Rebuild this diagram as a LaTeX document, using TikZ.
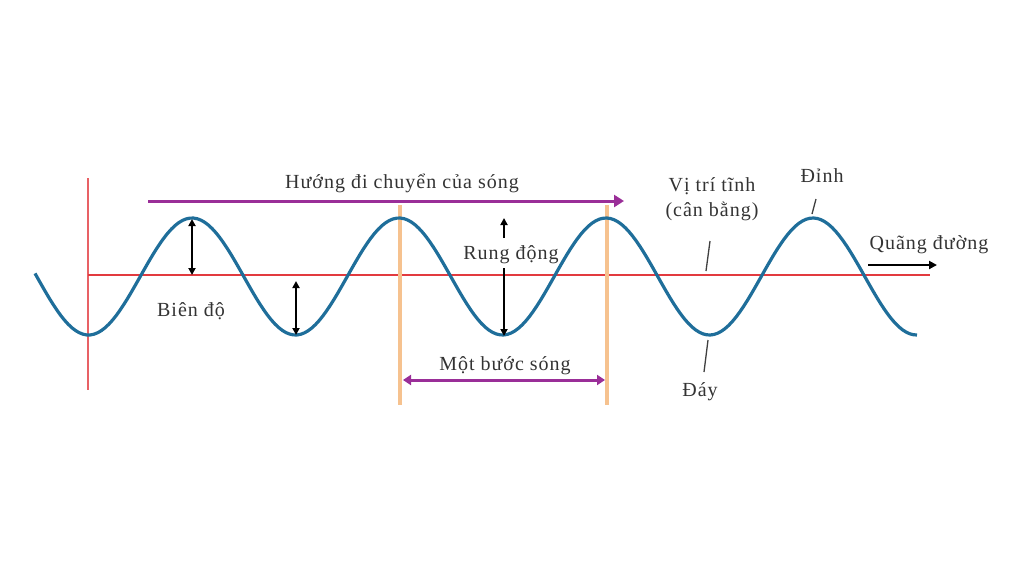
\documentclass[tikz,border=0pt]{standalone}
\usepackage{fontspec}
\setmainfont{Liberation Serif}[LetterSpace=5]
\usetikzlibrary{arrows.meta}
\definecolor{wave}{HTML}{1F6E9A}
\definecolor{rest}{HTML}{E23A3F}
\definecolor{violet}{HTML}{9A2E98}
\definecolor{peach}{HTML}{F6C28F}
\begin{document}
\begin{tikzpicture}[x=1pt,y=-1pt]
\tikzstyle{every node}+=[inner sep=0pt,font=\fontsize{20}{22}\selectfont,text=black!80]
\tikzstyle{tip}=[-{Triangle[length=7pt,width=7pt]}]
\tikzstyle{leader}=[black!75,line width=1.3pt]
\useasboundingbox (0,0) rectangle (1024,576);
% axes
\draw [rest,line width=1.3pt,opacity=0.8] (88,178) -- (88,390);
\draw [rest,line width=2.2pt] (88,275) -- (930,275);
% wavelength marks
\draw [peach,line width=3.5pt] (400,205) -- (400,405);
\draw [peach,line width=3.5pt] (607,205) -- (607,405);
% the wave
\draw [wave,line width=3.2pt] plot[domain=35:917,samples=240] (\x,{276.5-58.5*cos((\x-192)*1.73913)});
% direction of travel
\coordinate (dirA) at (148,201);
\coordinate (dirB) at (624,201);
\draw [violet,line width=3pt,-{Triangle[length=10pt,width=12pt]}] (dirA) -- (dirB);
\node (dir) at (402,183) {Hướng đi chuyển của sóng};
% amplitude
\coordinate (a1) at (192,219);
\coordinate (a2) at (192,275);
\coordinate (a3) at (296,281);
\coordinate (a4) at (296,335);
\draw [black,line width=2pt,{Triangle[length=7pt,width=7pt]}-{Triangle[length=7pt,width=7pt]}] (a1) -- (a2);
\draw [black,line width=2pt,{Triangle[length=7pt,width=7pt]}-{Triangle[length=7pt,width=7pt]}] (a3) -- (a4);
\node (amp) at (191,311) {Biên độ};
% vibration
\coordinate (v1) at (504,238);
\coordinate (v2) at (504,218);
\coordinate (v3) at (504,268);
\coordinate (v4) at (504,336);
\draw [black,line width=2pt,tip] (v1) -- (v2);
\draw [black,line width=2pt,tip] (v3) -- (v4);
\node (vib) at (511,255) {Rung động};
% wavelength
\coordinate (w1) at (403,380);
\coordinate (w2) at (605,380);
\draw [violet,line width=3pt,{Triangle[length=8pt,width=10pt]}-{Triangle[length=8pt,width=10pt]}] (w1) -- (w2);
\node (wl) at (505,366) {Một bước sóng};
% rest position
\node (rp1) at (712,186) {Vị trí tĩnh};
\node (rp2) at (712,211) {(cân bằng)};
\coordinate (r1) at (710,241);
\coordinate (r2) at (706,271);
\draw [leader] (r1) -- (r2);
% crest
\node (crest) at (822,176) {Đỉnh};
\coordinate (c1) at (816,199);
\coordinate (c2) at (812,214);
\draw [leader] (c1) -- (c2);
% trough
\node (trough) at (700,392) {Đáy};
\coordinate (t1) at (708,340);
\coordinate (t2) at (704,372);
\draw [leader] (t1) -- (t2);
% distance
\node (dist) at (929,245) {Quãng đường};
\coordinate (d1) at (868,265);
\coordinate (d2) at (937,265);
\draw [black,line width=2.2pt,-{Triangle[length=8pt,width=8pt]}] (d1) -- (d2);
\end{tikzpicture}
\end{document}
